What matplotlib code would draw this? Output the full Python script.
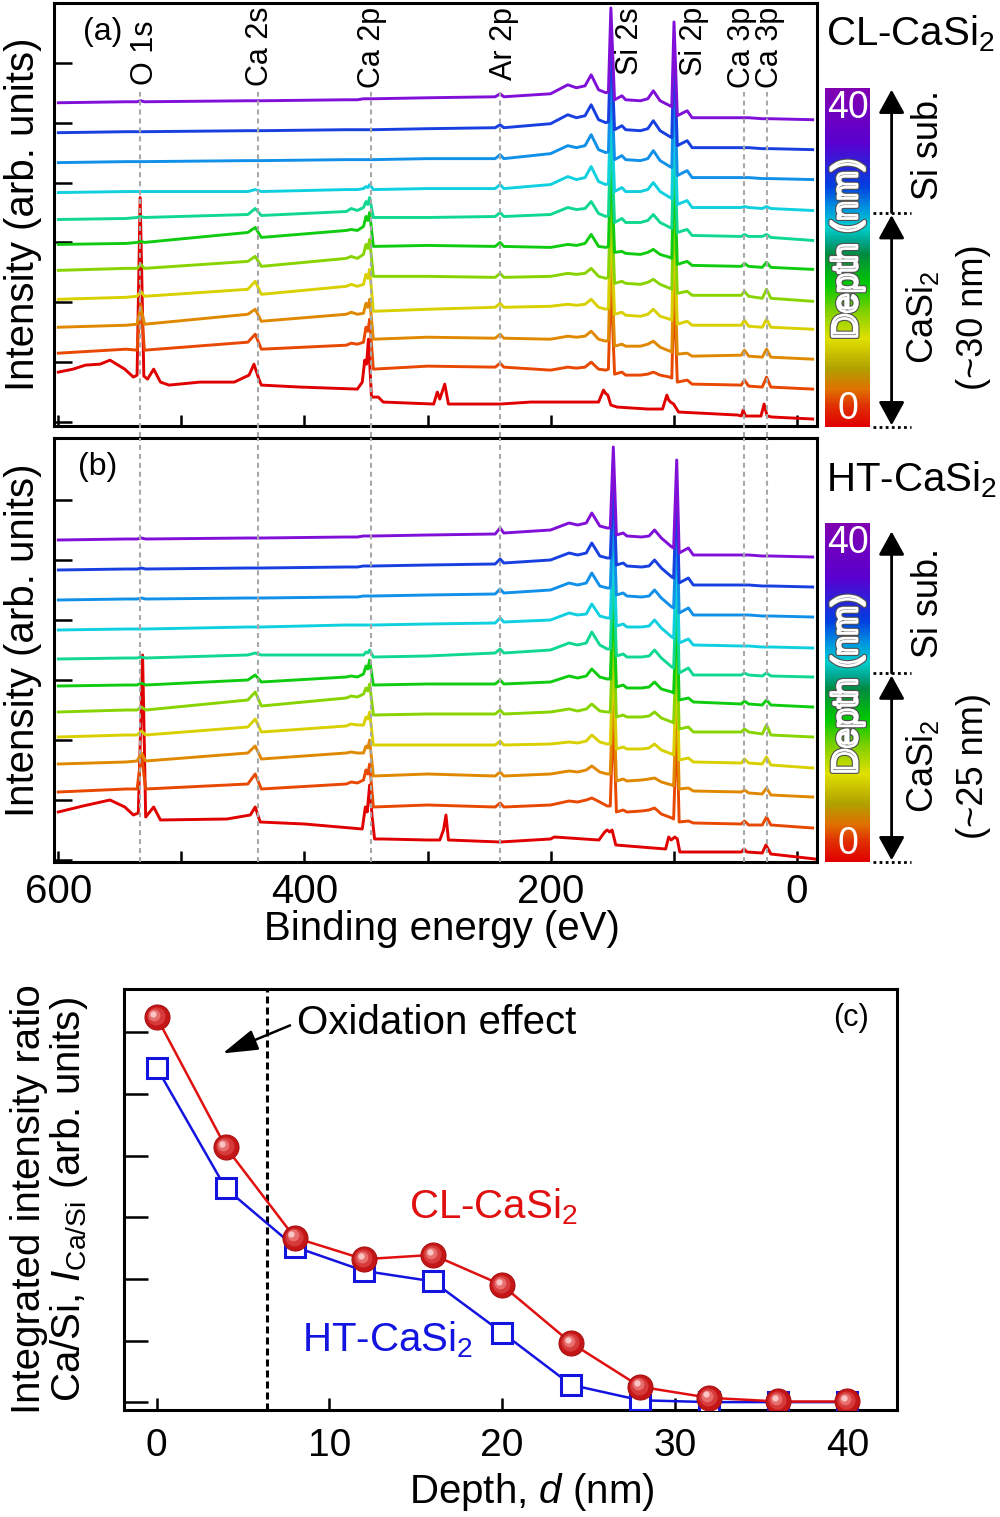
import numpy as np
import matplotlib
matplotlib.use("Agg")
import matplotlib.pyplot as plt
import matplotlib.patheffects as pe
from matplotlib.colors import LinearSegmentedColormap, Normalize
from matplotlib.cm import ScalarMappable
from matplotlib.ticker import MultipleLocator
from matplotlib.transforms import offset_copy

plt.rcParams['font.family'] = ['Liberation Sans', 'DejaVu Sans']
plt.rcParams['mathtext.fontset'] = 'custom'
plt.rcParams['mathtext.rm'] = 'Liberation Sans'
plt.rcParams['mathtext.it'] = 'Liberation Sans:italic'
plt.rcParams['mathtext.bf'] = 'Liberation Sans:bold'

# ---------------- data ----------------
depths = [0, 4, 8, 12, 16, 20, 24, 28, 32, 36, 40]

# core level markers (eV)
line_energy = [533.6, 437.5, 345.9, 241.1, 42.6, 23.9]
label_names = ['O 1s', 'Ca 2s', 'Ca 2p', 'Ar 2p', 'Si 2s', 'Si 2p', 'Ca 3p', 'Ca 3p']
label_energy = [529.6, 436.1, 344.7, 237.8, 135.1, 83.1, 44.7, 21.7]

# stacking offsets of the spectra (arb. units), depth 0 ... 40 nm
cl_offset = [50, 69, 95, 123, 152, 178, 203, 230, 260, 290, 320]
ht_offset = [48, 68, 96, 123, 148, 174, 201, 230, 260, 290, 320]

# CL-CaSi2, surface spectrum (0 nm)
cl_red_energy = [600, 588, 578, 566, 558, 546, 539, 536, 533.5, 530.5, 527.5, 522.5, 517, 510,
                 485, 457, 445, 441, 437, 435, 403, 357, 353, 351, 349.5, 348, 345.5, 340, 336,
                 295, 292, 290, 286, 283, 241, 216, 161, 157, 155.5, 153.5, 151, 146, 121, 109,
                 105.5, 104, 102.5, 100, 96, 48, 45, 43.5, 41.5, 29, 26.5, 24, 20, -13]
cl_red_int = [0, 3, 7, 8, 12, 3, -5, -3, 175, -4, -7, 3, -10, -13,
              -10, -10, -3, 8, -7, -13, -15, -17, -10, 12, 8, 33, -25, -25, -30,
              -32, -20, -27, -12, -32, -32, -30, -30, -18, -21, -23, -33, -35, -37, -37,
              -23, -28, -30, -32, -40, -43, -44, -38, -44, -44, -32, -44, -45, -47]

# CL-CaSi2, spectra at 4 ... 40 nm
cl_energy = [600, 545, 536, 533, 530, 446, 440, 435, 366, 362, 357, 352, 350, 348.5, 347, 344,
             300, 245, 241, 238, 200, 186, 179, 172, 167, 161, 155, 153, 151, 148, 142, 139,
             127, 121, 116.5, 111, 103, 101.5, 99.7, 97, 89, 85, 45, 42.5, 39, 28, 24.5, 21, -13]
cl_int = [
    [0, 4, 3, 50, 3, 11, 19, 4, 8, 10, 9, 11, 26, 22, 34, -16, -13, -14, -10, -14,
     -17, -14, -15, -14, -9, -16, -17, -16, 75, -21, -19, -22, -22, -21, -19, -22, -24, -25, 65,
     -29, -27, -31, -32, -27, -33, -34, -24, -34, -36],
    [0, 2, 3, 21, 3, 13, 18, 6, 13, 15, 13, 14, 24, 20, 28, -12, -10, -11, -7, -11,
     -12, -9, -10, -9, -4, -12, -14, -13, 80, -19, -17, -19, -19, -17, -14, -20, -24, -25, 70,
     -27, -26, -29, -28, -23, -29, -30, -22, -30, -32],
    [0, 2, 3, 8, 3, 10, 18, 5, 13, 15, 13, 15, 25, 21, 30, -12, -10, -8, -4, -8,
     -7, -5, -6, -5, 0, -8, -10, -9, 82, -15, -13, -16, -17, -15, -10, -17, -20, -21, 72,
     -25, -22, -26, -26, -21, -27, -28, -20, -28, -30],
    [0, 2, 2, 6, 2, 9, 14, 4, 12, 14, 12, 16, 26, 22, 31, -6, -6, -7, -3, -7,
     -6, -3, -4, -3, 2, -6, -8, -7, 84, -13, -11, -13, -14, -12, -9, -14, -18, -19, 74,
     -23, -21, -25, -25, -21, -26, -28, -19, -28, -31],
    [0, 1, 2, 3, 2, 12, 17, 7, 14, 15, 14, 18, 28, 24, 32, -2, -1, -2, 2, -2,
     -3, 0, -1, 1, 10, -2, -3, -2, 88, -8, -7, -9, -10, -8, -5, -10, -13, -14, 78,
     -20, -17, -21, -22, -19, -22, -23, -18, -23, -25],
    [0, 1, 2, 3, 2, 5, 11, 4, 8, 11, 9, 12, 18, 15, 22, 2, 2, 3, 7, 3,
     5, 12, 10, 11, 18, 6, 3, 4, 90, -3, 1, -3, -3, -1, 5, -3, -8, -9, 80,
     -13, -10, -16, -17, -15, -17, -17, -15, -18, -21],
    [0, 1, 1, 1, 1, 1, 3, 1, 3, 3, 3, 4, 6, 5, 8, 3, 4, 4, 8, 4,
     8, 16, 13, 15, 26, 11, 8, 9, 92, 1, 5, 1, 1, 3, 10, 1, -5, -6, 82,
     -12, -8, -15, -15, -14, -15, -16, -14, -16, -18],
    [0, 1, 1, 1, 1, 2, 2, 2, 3, 3, 3, 3, 3, 3, 3, 3, 4, 4, 8, 4,
     9, 17, 15, 17, 28, 13, 10, 11, 93, 3, 7, 3, 2, 4, 12, 2, -4, -5, 83,
     -13, -8, -15, -15, -15, -15, -16, -16, -16, -17],
    [0, 1, 1, 1, 1, 2, 2, 2, 3, 3, 3, 3, 3, 3, 3, 3, 4, 5, 8, 5,
     9, 18, 15, 17, 28, 13, 10, 11, 94, 3, 7, 3, 2, 4, 12, 2, -4, -5, 84,
     -13, -8, -15, -15, -15, -15, -16, -16, -16, -17],
    [0, 1, 1, 2, 1, 2, 2, 2, 3, 3, 3, 4, 4, 4, 4, 4, 5, 6, 9, 6,
     9, 18, 15, 17, 28, 13, 10, 11, 95, 3, 7, 3, 2, 4, 12, 2, -3, -4, 81,
     -13, -8, -15, -15, -15, -15, -16, -16, -16, -17],
]

# HT-CaSi2, surface spectrum (0 nm)
ht_red_energy = [600, 580, 558, 546, 539, 535, 531.5, 529, 522.5, 517, 463, 444, 440, 436, 400,
                 353, 350.5, 349, 347, 345, 343, 336, 300, 290, 287, 285, 283, 241, 200, 197,
                 160.7, 156, 154, 152, 150, 147, 106.5, 104, 102, 99, 97, 95, 45, 42.8, 40.5,
                 28, 25, 21, -15]
ht_red_int = [0, 6, 12, 5, -3, -1, 157, -5, 5, -8, -7, -3, 5, -10, -12,
              -17, 5, 0, 27, -5, -27, -27, -28, -28, -18, -3, -28, -30, -27, -25,
              -28, -20, -18, -20, -18, -33, -37, -25, -28, -25, -27, -40, -40, -37, -40,
              -41, -33, -42, -47]

# HT-CaSi2, spectra at 4 ... 40 nm
ht_energy = [600, 545, 536, 532.5, 529, 446, 440, 435, 366, 362, 357, 352, 350, 348.5, 347, 344,
             300, 245, 241, 238, 200, 185, 178, 171, 166.5, 160, 154, 151.5, 149, 146.5, 141, 138,
             126, 120, 115.5, 110, 101.5, 100, 97.5, 95.5, 88, 84, 45, 42.5, 39, 28, 24.5, 21, -13]
ht_int = [
    [0, 3, 3, 38, 3, 8, 18, 3, 8, 10, 9, 12, 22, 18, 28, -15, -13, -15, -11, -15,
     -13, -9, -10, -8, -6, -10, -14, -14, 78, -20, -18, -20, -19, -18, -16, -22, -26, -27, 68,
     -30, -29, -31, -32, -29, -33, -33, -25, -33, -36],
    [0, 2, 3, 11, 3, 11, 18, 5, 11, 12, 11, 11, 18, 16, 24, -12, -10, -12, -8, -12,
     -10, -7, -8, -6, -2, -8, -10, -10, 80, -17, -15, -17, -16, -15, -14, -18, -21, -22, 70,
     -25, -24, -27, -28, -26, -29, -30, -24, -31, -33],
    [0, 2, 2, 6, 2, 10, 18, 5, 11, 13, 12, 12, 20, 18, 25, -8, -8, -8, -4, -8,
     -7, -5, -6, -4, 2, -5, -7, -7, 82, -12, -10, -12, -12, -11, -7, -13, -17, -18, 72,
     -23, -21, -25, -26, -22, -26, -27, -20, -28, -31],
    [0, 2, 2, 5, 2, 12, 20, 6, 14, 16, 15, 18, 24, 21, 28, -3, -2, -2, 2, -2,
     0, 3, 1, 3, 8, 1, 0, 0, 85, -5, -3, -5, -5, -4, 0, -6, -10, -11, 74,
     -17, -15, -20, -20, -17, -20, -22, -13, -23, -25],
    [0, 1, 1, 3, 1, 6, 11, 4, 9, 10, 9, 12, 20, 17, 26, 1, 2, 2, 6, 2,
     4, 10, 8, 10, 17, 9, 7, 7, 90, -1, 1, -2, -2, -1, 4, -3, -6, -7, 78,
     -14, -12, -16, -18, -15, -18, -19, -14, -19, -21],
    [0, 1, 1, 2, 1, 4, 6, 4, 4, 4, 4, 4, 7, 6, 9, 2, 3, 6, 10, 6,
     9, 16, 14, 16, 27, 14, 10, 10, 92, 3, 5, 2, 2, 3, 9, 1, -8, -9, 80,
     -14, -9, -16, -16, -14, -16, -17, -14, -17, -18],
    [0, 1, 1, 1, 1, 3, 3, 3, 5, 5, 5, 5, 5, 5, 5, 5, 6, 7, 12, 8,
     10, 17, 15, 16, 26, 14, 12, 12, 92, 4, 6, 3, 3, 4, 10, 2, -7, -8, 80,
     -13, -9, -15, -16, -16, -16, -17, -17, -17, -18],
    [0, 1, 1, 2, 1, 2, 2, 2, 3, 3, 3, 4, 4, 4, 4, 4, 5, 6, 11, 7,
     10, 17, 15, 17, 27, 14, 12, 12, 92, 5, 7, 4, 3, 4, 10, 2, -7, -8, 80,
     -13, -8, -15, -15, -15, -15, -16, -16, -16, -17],
    [0, 1, 1, 2, 1, 2, 2, 2, 3, 3, 3, 4, 4, 4, 4, 4, 5, 6, 11, 7,
     10, 17, 15, 17, 27, 14, 12, 12, 92, 5, 7, 4, 3, 4, 10, 2, -7, -8, 80,
     -13, -8, -15, -15, -15, -15, -16, -16, -16, -17],
    [0, 1, 1, 2, 1, 2, 2, 2, 3, 3, 3, 4, 4, 4, 4, 4, 5, 6, 12, 7,
     10, 17, 15, 17, 27, 14, 12, 12, 93, 5, 7, 4, 3, 4, 10, 2, -7, -8, 80,
     -13, -8, -15, -15, -15, -15, -16, -16, -16, -17],
]

# panel (c): integrated intensity ratio Ca/Si
cl_ratio = [6.25, 4.14, 2.67, 2.32, 2.39, 1.90, 0.96, 0.25, 0.07, 0.01, 0.01]
ht_ratio = [5.43, 3.47, 2.52, 2.13, 1.96, 1.13, 0.28, 0.03, 0.0, 0.0, 0.0]
oxidation_depth = 6.37

# ---------------- style ----------------
trace_colors = ['#e00000', '#e84800', '#e08800', '#d8d000', '#88d400', '#10cc10',
                '#10d890', '#10d0e0', '#1090e8', '#1840e0', '#8010d8']
bar_cmap = LinearSegmentedColormap.from_list('depth', [
    (0.00, '#e00000'), (0.06, '#e03000'), (0.11, '#e07000'), (0.17, '#b0a000'),
    (0.26, '#e0e000'), (0.34, '#80d000'), (0.42, '#00c800'), (0.51, '#008a40'),
    (0.55, '#00a890'), (0.59, '#00d0d0'), (0.65, '#0090e0'), (0.71, '#0040e0'),
    (0.84, '#5a00d0'), (1.00, '#8000b0')])

W, H = 1000, 1517
fig = plt.figure(figsize=(W / 100, H / 100), dpi=100)


def box(l, t, r, b):
    return [l / W, 1 - b / H, (r - l) / W, (b - t) / H]


ax_a = fig.add_axes(box(54, 3, 817, 426))
ax_b = fig.add_axes(box(54, 438, 817, 862))
ax_c = fig.add_axes(box(124, 989, 897, 1410))
cax_a = fig.add_axes(box(825, 88, 870, 427))
cax_b = fig.add_axes(box(825, 523, 870, 862))

FS = 29


def style_axes(ax, ylen, xlen):
    for s in ax.spines.values():
        s.set_linewidth(2.2)
    ax.tick_params(which='both', direction='in', top=False, right=False, width=1.8,
                   labelsize=FS)
    ax.tick_params(axis='y', which='both', length=ylen)
    ax.tick_params(axis='x', which='both', length=xlen, pad=8)


# ---------------- panels (a) and (b) ----------------
panels = [
    (ax_a, cl_red_energy, cl_red_int, cl_energy, cl_int, cl_offset, (-4, 420), '(a)', 0.038),
    (ax_b, ht_red_energy, ht_red_int, ht_energy, ht_int, ht_offset, (-2, 422), '(b)', 0.031),
]
for ax, e0, i0, eg, rows, offs, ylim, tag, tx in panels:
    ax.plot(e0, offs[0] + np.array(i0), color=trace_colors[0], lw=2.1, zorder=2)
    for k, row in enumerate(rows, start=1):
        ax.plot(eg, offs[k] + np.array(row), color=trace_colors[k], lw=2.1, zorder=2)
    ax.set_xlim(603.5, -16.5)
    ax.set_ylim(*ylim)
    ax.xaxis.set_major_locator(MultipleLocator(200))
    ax.xaxis.set_minor_locator(MultipleLocator(100))
    ax.set_yticks(np.arange(0, 361, 60))
    ax.set_yticklabels([])
    style_axes(ax, 13, 8)
    ax.text(tx, 0.931, tag, transform=ax.transAxes, fontsize=23, va='center', ha='left')

ax_a.set_xticklabels([])
ax_b.set_xlabel('Binding energy (eV)', fontsize=FS)
ax_b.xaxis.set_label_coords(0.5085, -0.113)
ax_a.set_ylabel('Intensity (arb. units)', fontsize=FS)
ax_b.set_ylabel('Intensity (arb. units)', fontsize=FS)
ax_a.yaxis.set_label_coords(-0.016, 0.501)
ax_b.yaxis.set_label_coords(-0.016, 0.524)

# dashed core-level guides running through both panels
dash = dict(color='#a8a8a8', lw=1.5, ls=(0, (2.4, 1.9)), zorder=3, clip_on=False)
for e in line_energy:
    ax_a.plot([e, e], [-15, 331], **dash)
    ax_b.plot([e, e], [-2, 422], **dash)
for name, e in zip(label_names, label_energy):
    ax_a.text(e, 416 if name != 'O 1s' else 402, name, rotation=90, ha='center', va='top',
              fontsize=22)

# colour bars with layer arrows
outline = [pe.Stroke(linewidth=3.6, foreground='#505050'),
           pe.Stroke(linewidth=2.0, foreground='white')]
bars = [(cax_a, 39.8, 25.3, 'CL-CaSi$_2$', 45, '(~30 nm)', 33.3, 13.0),
        (cax_b, 39.0, 22.3, 'HT-CaSi$_2$', 491.7, '(~25 nm)', 30.6, 11.3)]
for cax, top, iface, title, base_px, thick, y_sub, y_casi in bars:
    cb = fig.colorbar(ScalarMappable(norm=Normalize(0, 40), cmap=bar_cmap), cax=cax)
    cb.set_ticks([])
    cb.outline.set_visible(False)
    tr = cax.get_yaxis_transform()
    cax.text(0.5, 37.6, '40', transform=tr, color='white', fontsize=27, ha='center', va='center')
    cax.text(0.5, 2.1, '0', transform=tr, color='white', fontsize=27, ha='center', va='center')
    cax.text(0.5, 21, 'Depth (nm)', transform=tr, rotation=90, fontsize=26, ha='center',
             va='center', color=(1, 1, 1, 0), path_effects=outline)
    head = dict(lw=2.0, color='k', shrinkA=0, shrinkB=0, mutation_scale=36)
    cax.annotate('', xy=(1.48, top), xytext=(1.48, iface), xycoords=tr, textcoords=tr,
                 arrowprops=dict(arrowstyle='-|>,head_length=0.4,head_width=0.22', **head),
                 annotation_clip=False)
    cax.annotate('', xy=(1.48, 0.2), xytext=(1.48, iface - 0.3), xycoords=tr, textcoords=tr,
                 arrowprops=dict(arrowstyle='<|-|>,head_length=0.4,head_width=0.22', **head),
                 annotation_clip=False)
    for yy in (iface, 0):
        cax.plot([1.07, 1.9], [yy, yy], transform=tr, color='k', lw=2.0,
                 ls=(0, (1, 1.2)), clip_on=False)
    cax.text(2.29, y_sub, 'Si sub.', transform=tr, rotation=90, fontsize=26,
             ha='center', va='center')
    cax.text(2.16, y_casi, 'CaSi$_2$', transform=tr, rotation=90, fontsize=26,
             ha='center', va='center')
    cax.text(3.29, y_casi, thick, transform=tr, rotation=90, fontsize=26,
             ha='center', va='center')
    fig.text(826 / W, 1 - base_px / H, title, fontsize=FS, ha='left', va='baseline')

# ---------------- panel (c) ----------------
ax_c.axvline(oxidation_depth, color='k', lw=2.2, ls=(0, (2.3, 1.3)), zorder=1)
ax_c.plot(depths, ht_ratio, color='#1414e0', lw=1.8, marker='s', ms=14, mfc='white',
          mec='#1414e0', mew=2.2, zorder=3)
ax_c.plot(depths, cl_ratio, color='#e01010', lw=1.8, zorder=4)
ax_c.plot(depths, cl_ratio, ls='none', marker='o', ms=18, mfc='#c41616', mec='#a81010',
          mew=0.8, zorder=5)
for dx, ms, col in [(-0.8, 13, '#d63a3a'), (-1.6, 8.5, '#e86e6e'), (-2.4, 4.5, '#f8c4c4')]:
    tr = offset_copy(ax_c.transData, fig=fig, x=dx, y=-dx, units='points')
    ax_c.plot(depths, cl_ratio, ls='none', marker='o', ms=ms, mfc=col, mec='none',
              transform=tr, zorder=6)

ax_c.set_xlim(-1.89, 42.87)
ax_c.set_ylim(-0.128, 6.706)
ax_c.set_xticks([0, 10, 20, 30, 40])
ax_c.set_yticks(range(7))
ax_c.set_yticklabels([])
style_axes(ax_c, 17, 8.5)
ax_c.tick_params(axis='x', pad=13, labelsize=28)
ax_c.set_xlabel('Depth, $d$ (nm)', fontsize=FS)
ax_c.xaxis.set_label_coords(0.528, -0.145)
ax_c.set_ylabel('Integrated intensity ratio\nCa/Si, $I_{\\mathrm{Ca/Si}}$ (arb. units)',
                fontsize=FS, linespacing=1.0)
ax_c.yaxis.set_label_coords(-0.044, 0.5)

ax_c.annotate('Oxidation effect', xy=(3.82, 5.66), xytext=(8.11, 6.16), fontsize=FS,
              ha='left', va='center',
              arrowprops=dict(arrowstyle='-|>,head_length=0.6,head_width=0.18', color='k',
                              lw=1.8, mutation_scale=36, relpos=(0, 0.5), shrinkA=3, shrinkB=0))
ax_c.text(14.64, 2.99, 'CL-CaSi$_2$', color='#e01010', fontsize=FS, va='baseline')
ax_c.text(8.40, 0.82, 'HT-CaSi$_2$', color='#1414e0', fontsize=FS, va='baseline')
ax_c.text(39.2, 6.23, '(c)', fontsize=22, ha='left', va='center')

fig.savefig('out.png', dpi=100)
